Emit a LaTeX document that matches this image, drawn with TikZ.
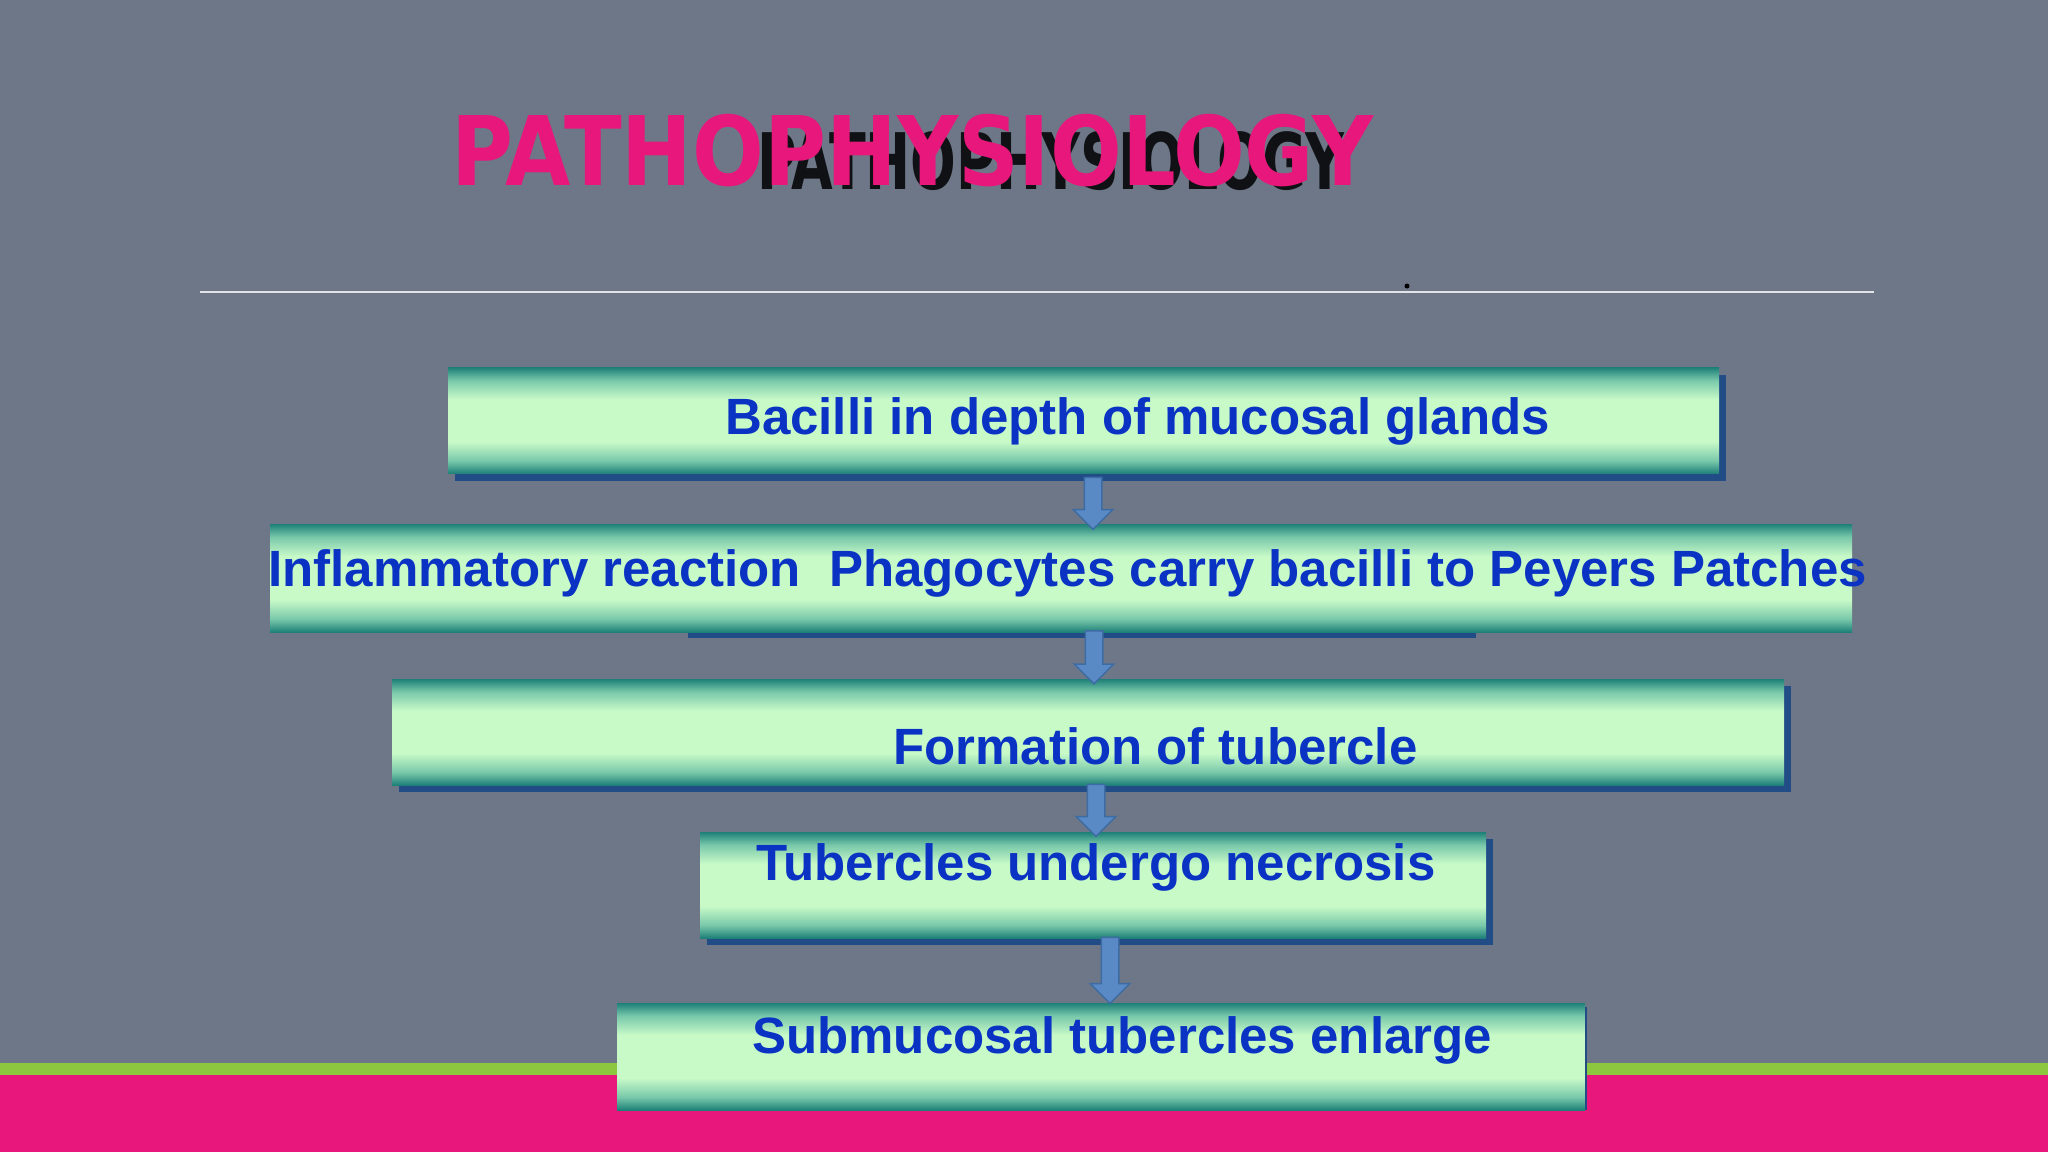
\documentclass[tikz,border=0pt]{standalone}
\usepackage{fontspec}
\setmainfont{Liberation Sans}
\newfontfamily\titlefont{DejaVu Sans}
\usetikzlibrary{shapes.arrows,shadows}

\definecolor{slidebg}{RGB}{110,119,135}
\definecolor{titlepink}{RGB}{232,23,124}
\definecolor{stripegreen}{RGB}{141,198,63}
\definecolor{boxteal}{RGB}{30,128,120}
\definecolor{boxmid}{RGB}{120,200,170}
\definecolor{boxmint}{RGB}{200,250,200}
\definecolor{shadowblue}{RGB}{33,76,134}
\definecolor{textblue}{RGB}{10,51,196}
\definecolor{arrowfill}{RGB}{90,138,198}
\definecolor{arrowline}{RGB}{61,107,163}

\pgfdeclareverticalshading{boxshade}{100bp}{color(0bp)=(boxteal); color(25bp)=(boxteal);
  color(31bp)=(boxmid); color(40bp)=(boxmint); color(60bp)=(boxmint);
  color(69bp)=(boxmid); color(75bp)=(boxteal); color(100bp)=(boxteal)}

\tikzset{
  stagebox/.style={rectangle, shading=boxshade, inner sep=0pt},
  boxshadow/.style={drop shadow={shadow xshift=7pt, shadow yshift=-7pt, fill=shadowblue, opacity=1}},
  stagetext/.style={anchor=base west, inner sep=0pt, text=textblue,
    font=\fontsize{51}{60}\selectfont\bfseries},
  downarrow/.style={single arrow, rotate=-90, draw=arrowline, fill=arrowfill, line width=1.5pt,
    inner xsep=0pt, inner ysep=8pt, single arrow head extend=11pt, single arrow tip angle=90},
}

\begin{document}
\begin{tikzpicture}[x=1pt, y=-1pt]
      % Background
      \fill[slidebg] (0,0) rectangle (2048,1152);
      \fill[stripegreen] (0,1063) rectangle (2048,1075);
      \fill[titlepink] (0,1075) rectangle (2048,1152);
      \useasboundingbox (0,0) rectangle (2048,1152);

      % Title
      \node[anchor=base west, inner sep=0pt, text=black, opacity=0.85] at (757,189) (titleshadow)
        {\titlefont\bfseries\fontsize{78}{80}\selectfont\scalebox{0.69}[1]{PATHOPHYSIOLOGY}};
      \node[anchor=base west, inner sep=0pt, text=titlepink] at (451,185) (title)
        {\titlefont\bfseries\fontsize{96}{100}\selectfont\scalebox{0.88}[1]{PATHOPHYSIOLOGY}};
      \draw[line width=2pt, color=white!80!slidebg] (200,292) -- (1874,292);
      \fill[black] (1407,286) circle (2.5);

      % Boxes
      \node[stagebox, boxshadow, minimum width=1271pt, minimum height=106pt] at (1083.5,420.5) (b1) {};
      \fill[shadowblue] (688,600) rectangle (1476,638);
      \node[stagebox, minimum width=1582pt, minimum height=108pt] at (1061,578) (b2) {};
      \node[stagebox, boxshadow, minimum width=1392pt, minimum height=106pt] at (1088,732) (b3) {};
      \node[stagebox, boxshadow, minimum width=786pt, minimum height=106pt] at (1093,885) (b4) {};
      \node[stagebox, minimum width=968pt, minimum height=107pt] at (1101,1056.5) (b5) {};
      \draw[shadowblue, line width=2pt] ([xshift=1pt, yshift=-4pt]b5.north east) -- ([xshift=1pt]b5.south east);

      % Texts
      \node[stagetext] at (725,434) (t1) {Bacilli in depth of mucosal glands};
      \node[stagetext] at (268,586) (t2) {Inflammatory reaction \ Phagocytes carry bacilli to Peyers Patches};
      \node[stagetext] at (893,764) (t3) {Formation of tubercle};
      \node[stagetext] at (756,880) (t4) {Tubercles undergo necrosis};
      \node[stagetext] at (752,1053) (t5) {Submucosal tubercles enlarge};

      % Arrows
      \node[downarrow, minimum height=52pt] at (1093,499) (a1) {};
      \node[downarrow, minimum height=53pt] at (1094,653) (a2) {};
      \node[downarrow, minimum height=52pt] at (1096,806) (a3) {};
      \node[downarrow, minimum height=66pt] at (1110,966) (a4) {};
\end{tikzpicture}
\end{document}
